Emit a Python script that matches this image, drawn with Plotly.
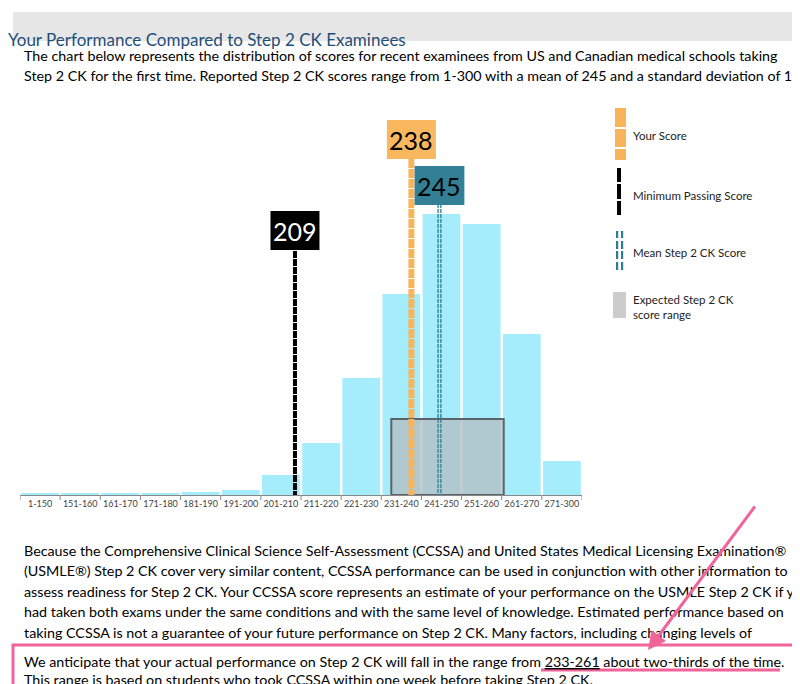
import plotly.graph_objects as go

bins = ["1-150","151-160","161-170","171-180","181-190","191-200","201-210","211-220",
        "221-230","231-240","241-250","251-260","261-270","271-300"]
bin_starts = [1,151,161,171,181,191,201,211,221,231,241,251,261,271]
counts = [2,2,2,2,3,5,20,52,117,201,281,271,161,34]
your_score = 238
min_pass = 209
mean_score = 245
range_lo, range_hi = 233, 261
range_box_height = 76

W, H = 800, 684
L, R, T, B = 12, 226, 100, 197
PW, PH = W - L - R, H - T - B
FONT = "Lato"
def px(x): return (x - L) / PW
def py(y): return (H - B - y) / PH

def sx(s):
    i = max(k for k, a in enumerate(bin_starts) if a <= s)
    return i - 0.5 + (s - bin_starts[i] + 0.5) / 10.0

fig = go.Figure(go.Bar(x=list(range(len(bins))), y=counts, marker_color="#a5ecfc",
                       marker_line_width=0, width=0.94, hoverinfo="skip"))

shapes, ann = [], []
shapes.append(dict(type="rect", xref="x", yref="y", x0=sx(range_lo), x1=sx(range_hi), y0=0,
                   y1=range_box_height, fillcolor="rgba(180,190,195,0.75)",
                   line=dict(color="#5a6468", width=2), layer="above"))
shapes.append(dict(type="line", xref="x", yref="y", x0=sx(min_pass), x1=sx(min_pass), y0=-3, y1=245,
                   line=dict(color="black", width=4, dash="7px,1px"), layer="above"))
shapes.append(dict(type="line", xref="x", yref="y", x0=sx(your_score), x1=sx(your_score), y0=-3, y1=336,
                   line=dict(color="#f9b45a", width=6, dash="9px,1px"), layer="above"))
for d in (-0.035, 0.035):
    shapes.append(dict(type="line", xref="x", yref="y", x0=sx(mean_score)+d, x1=sx(mean_score)+d,
                       y0=-3, y1=290, line=dict(color="#2e7c93", width=1.3, dash="4px,1px"), layer="above"))

def label_box(score, ytop, ybot, bg, fg, halfw=0.61):
    c = sx(score)
    shapes.append(dict(type="rect", xref="x", yref="y", x0=c-halfw, x1=c+halfw, y0=ybot, y1=ytop,
                       fillcolor=bg, line=dict(width=0), layer="above"))
    ann.append(dict(xref="x", yref="y", x=c, y=(ytop+ybot)/2, text=str(score), showarrow=False,
                    font=dict(family=FONT, size=25, color=fg)))
label_box(min_pass, 284, 245, "black", "white")
label_box(your_score, 375, 336, "#f9b75f", "black")
label_box(mean_score, 329, 290, "#338096", "black", halfw=0.62)

shapes.append(dict(type="rect", xref="paper", yref="paper", x0=px(5), x1=px(795), y0=py(33), y1=py(4),
                   fillcolor="#e6e6e6", line=dict(width=0)))
ann.append(dict(xref="paper", yref="paper", x=px(400), y=py(19), text="Your Performance Compared to Step 2 CK Examinees",
                showarrow=False, font=dict(family=FONT, size=17, color="#1f4e79")))

def line_text(y, t, size=14.3, x=14):
    ann.append(dict(xref="paper", yref="paper", x=px(x), y=py(y), xanchor="left", yanchor="middle",
                    text=t, showarrow=False, font=dict(family=FONT, size=size, color="black")))

line_text(48, "The chart below represents the distribution of scores for recent examinees from US and Canadian medical schools taking")
line_text(68, "Step 2 CK for the first time. Reported Step 2 CK scores range from 1-300 with a mean of 245 and a standard deviation of 15.")
body = [
    (542, "Because the Comprehensive Clinical Science Self-Assessment (CCSSA) and United States Medical Licensing Examination®"),
    (562, "(USMLE®) Step 2 CK cover very similar content, CCSSA performance can be used in conjunction with other information to"),
    (583, "assess readiness for Step 2 CK. Your CCSSA score represents an estimate of your performance on the USMLE Step 2 CK if you"),
    (603, "had taken both exams under the same conditions and with the same level of knowledge. Estimated performance based on"),
    (624, "taking CCSSA is not a guarantee of your future performance on Step 2 CK. Many factors, including changing levels of"),
    (653, "We anticipate that your actual performance on Step 2 CK will fall in the range from <u>233-261</u> about two-thirds of the time."),
    (671, "This range is based on students who took CCSSA within one week before taking Step 2 CK."),
]
for y, t in body:
    line_text(y, t)

shapes.append(dict(type="rect", xref="paper", yref="paper", x0=px(5), x1=px(795), y0=py(682), y1=py(637),
                   fillcolor="rgba(0,0,0,0)", line=dict(color="#f0649a", width=3)))
shapes.append(dict(type="line", xref="paper", yref="paper", x0=px(533), x1=px(772), y0=py(662), y1=py(662),
                   line=dict(color="#f0649a", width=3)))
ann.append(dict(xref="paper", yref="paper", x=px(640), y=py(642), ax=108, ay=-145, text="",
                showarrow=True, arrowhead=2, arrowsize=1.2, arrowwidth=3, arrowcolor="#f0649a"))

for y0, y1 in [(100, 119), (121, 139), (141, 152)]:
    shapes.append(dict(type="rect", xref="paper", yref="paper", x0=px(607), x1=px(618), y0=py(y1), y1=py(y0),
                       fillcolor="#f9b45a", line=dict(width=0)))
for y0, y1 in [(160, 174), (176, 191), (193, 207)]:
    shapes.append(dict(type="rect", xref="paper", yref="paper", x0=px(609), x1=px(613), y0=py(y1), y1=py(y0),
                       fillcolor="black", line=dict(width=0)))
for xx in (608, 613):
    for y0, y1 in [(223, 230), (233, 241), (243, 251), (254, 262)]:
        shapes.append(dict(type="rect", xref="paper", yref="paper", x0=px(xx), x1=px(xx+2.2), y0=py(y1), y1=py(y0),
                           fillcolor="#2e7c93", line=dict(width=0)))
shapes.append(dict(type="rect", xref="paper", yref="paper", x0=px(605), x1=px(618), y0=py(310), y1=py(284),
                   fillcolor="#cccccc", line=dict(width=0)))
def leg_text(y, t):
    ann.append(dict(xref="paper", yref="paper", x=px(623), y=py(y), xanchor="left", yanchor="middle",
                    text=t, showarrow=False, font=dict(family=FONT, size=11.5, color="#222")))
leg_text(127, "Your Score")
leg_text(187, "Minimum Passing Score")
leg_text(245, "Mean Step 2 CK Score")
leg_text(291, "Expected Step 2 CK")
leg_text(306, "score range")

for k in range(len(bins)+1):
    shapes.append(dict(type="line", xref="x", yref="paper", x0=k-0.5, x1=k-0.5, y0=py(487), y1=py(492),
                       line=dict(color="#888", width=1)))

fig.update_layout(
    width=W, height=H, margin=dict(l=L, r=R, t=T, b=B),
    paper_bgcolor="white", plot_bgcolor="white", showlegend=False,
    shapes=shapes, annotations=ann, bargap=0.06,
    xaxis=dict(tickmode="array", tickvals=list(range(len(bins))), ticktext=bins, range=[-0.5, len(bins)-0.5],
               showgrid=False, zeroline=False, showline=True, linecolor="#888", linewidth=1,
               ticks="", tickfont=dict(family=FONT, size=9, color="#444")),
    yaxis=dict(range=[0, PH], visible=False, fixedrange=True),
)
fig.write_html("out.html")
